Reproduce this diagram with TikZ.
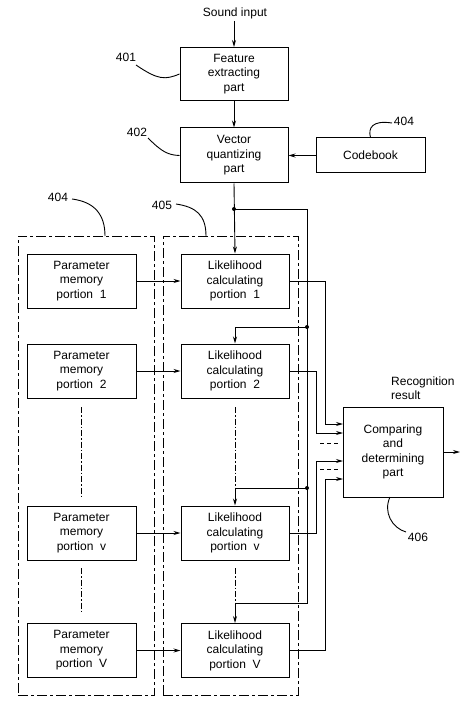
\documentclass[tikz,border=0pt]{standalone}
\usepackage{fontspec}
\setmainfont{Liberation Sans}
\usetikzlibrary{arrows.meta}
\begin{document}
\begin{tikzpicture}[x=1pt,y=-1pt,
  blk/.style={draw,line width=1pt,inner sep=0pt,align=center,font=\fontsize{12}{14.5}\selectfont},
  lbl/.style={font=\fontsize{12}{13}\selectfont,inner sep=0pt},
  arr/.style={-{Stealth[length=7pt,width=4pt]},line width=0.9pt},
  ln/.style={line width=0.9pt},
  grp/.style={line width=0.8pt,dash pattern=on 10pt off 3pt on 3pt off 3pt},
  vdots/.style={line width=0.7pt,dash pattern=on 6pt off 2pt on 1.5pt off 2pt},
  dotc/.style={circle,fill,inner sep=0pt,minimum size=4pt}]
\useasboundingbox (0,0) rectangle (474,711);
% top chain
\node[lbl] (snd) at (235,13) {Sound input};
\node[blk,minimum width=108pt,minimum height=53pt] (fe) at (234,74) {Feature\\extracting\\part};
\node[blk,minimum width=108pt,minimum height=55pt] (vq) at (234,155.5) {Vector\\quantizing\\part};
\node[blk,minimum width=109pt,minimum height=35pt] (cb) at (370.5,155.5) {Codebook};
\draw[arr] (snd.south -| fe.north) ++(0,2) coordinate (sndb) -- (fe.north);
\draw[arr] (fe.south) -- (vq.north);
\draw[arr] (cb.west) -- (vq.east);
% labels
\node[lbl] (l401) at (126,57) {401};
\draw[ln] (136,65) .. controls (158,80) and (165,80) .. (fe.west);
\node[lbl] (l402) at (137,132) {402};
\draw[ln] (148,138) .. controls (162,152) and (168,155) .. (vq.west);
\node[lbl] (l404r) at (404,121) {404};
\draw[ln] (392,123) .. controls (372,120) and (368,128) .. (cb.north);
% group boxes
\node[grp,draw,minimum width=136pt,minimum height=459pt,inner sep=0pt] (g404) at (86,465.5) {};
\node[grp,draw,minimum width=135pt,minimum height=459pt,inner sep=0pt] (g405) at (230.5,465.5) {};
\node[lbl] (l404) at (58,197) {404};
\draw[ln] (72,199) .. controls (95,202) and (105,215) .. (105,236);
\node[lbl] (l405) at (162,205) {405};
\draw[ln] (176,204) .. controls (196,207) and (206,215) .. (206,236);
% parameter memory
\foreach \n/\y/\t in {p1/281/1,p2/371/2,pv/533/v,pV/650.5/V}{
  \node[blk,minimum width=109pt,minimum height=54pt] (\n) at (81.5,\y) {Parameter\\memory\\portion\ \ \t};
}
\foreach \n/\y/\t in {q1/281/1,q2/371/2,qv/533/v,qV/650.5/V}{
  \node[blk,minimum width=108pt,minimum height=54pt] (\n) at (235,\y) {Likelihood\\calculating\\portion\ \ \t};
}
\draw[arr] (p1.east) -- (q1.west);
\draw[arr] (p2.east) -- (q2.west);
\draw[arr] (pv.east) -- (qv.west);
\draw[arr] (pV.east) -- (qV.west);
\draw[vdots] (81,407) -- (81,497);
\draw[vdots] (81,568) -- (81,613);
\draw[vdots] (235,407) -- (235,497);
\draw[vdots] (235,568) -- (235,608);
% comparing
\node[blk,minimum width=100pt,minimum height=90pt] (cmp) at (393,452) {Comparing\\and\\determining\\part};
\node[lbl,align=left,anchor=north west,font=\fontsize{12}{13.5}\selectfont] (rec) at (391,377) {Recognition\\result};
\coordinate (out) at (460,452);
\draw[arr] (cmp.east) -- (out);
\node[lbl] (l406) at (418,537) {406};
\draw[ln] (390,497) .. controls (383,512) and (392,528) .. (406,532);
% distribution bus
\node[dotc] (d0) at (234,209) {};
\node[dotc] (d2) at (307,327) {};
\node[dotc] (dv) at (307,488) {};
\coordinate (bV) at (307,603);
\draw[arr] (vq.south) -- (q1.north);
\draw[ln] (d0.center) -- (307,209) -- (bV) -- (235,603) coordinate (tV);
\draw[arr] (tV) -- (qV.north);
\draw[ln] (d2.center) -- (235,327) coordinate (t2);
\draw[arr] (t2) -- (q2.north);
\draw[ln] (dv.center) -- (235,488) coordinate (tv);
\draw[arr] (tv) -- (qv.north);
% outputs
\coordinate (c1) at (343,424);
\coordinate (c2) at (343,433);
\coordinate (c3) at (343,461);
\coordinate (c4) at (343,479);
\draw[ln] (q1.east) -- (325,281) -- (325,424);
\draw[arr] (325,424) -- (c1);
\draw[ln] (q2.east) -- (316,371) -- (316,433);
\draw[arr] (316,433) -- (c2);
\draw[ln] (qv.east) -- (316,533) -- (316,461);
\draw[arr] (316,461) -- (c3);
\draw[ln] (qV.east) -- (325,650.5) -- (325,479);
\draw[arr] (325,479) -- (c4);
\draw[ln,dash pattern=on 4pt off 3pt] (320,443) -- (340,443);
\draw[ln,dash pattern=on 4pt off 3pt] (320,469) -- (340,469);
\end{tikzpicture}
\end{document}
